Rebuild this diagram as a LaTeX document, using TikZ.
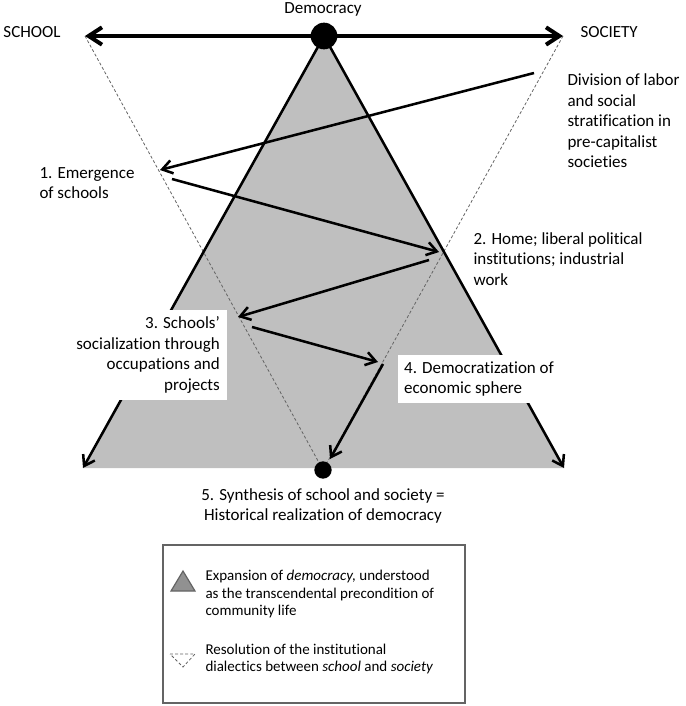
\documentclass[tikz,border=0pt]{standalone}
\usepackage{fontspec}
\setmainfont{Carlito}[Ligatures={NoCommon}]
\usetikzlibrary{arrows.meta}
\definecolor{demgray}{RGB}{191,191,191}
\definecolor{leggray}{RGB}{145,145,145}
\definecolor{dashgray}{RGB}{100,100,100}
\tikzset{every picture/.style={line width=0.75pt}}
\tikzset{
  axis/.style={line width=3pt, {Straight Barb[length=10pt,width=13pt]}-{Straight Barb[length=10pt,width=13pt]}},
  side/.style={line width=1.9pt, -{Straight Barb[length=7.5pt,width=10pt]}},
  zig/.style={line width=1.9pt, -{Straight Barb[length=7.5pt,width=10pt]}},
  resol/.style={draw=dashgray, line width=0.6pt, dash pattern=on 2.2pt off 1.6pt},
  dot/.style={circle, fill=black, inner sep=0pt, minimum size=#1},
  lbl/.style={font=\fontsize{12.75}{15.4}\selectfont, inner sep=0pt, align=left},
  leg/.style={font=\fontsize{11.25}{13.1}\selectfont, inner sep=0pt, align=left, anchor=west},
  boxed/.style={fill=white, inner xsep=5pt, inner ysep=4.7pt}
}

\begin{document}
\begin{tikzpicture}[x=0.75pt,y=0.75pt,yscale=-1,xscale=1]
			\useasboundingbox (0,0) rectangle (685,706);

			% Points
			\coordinate (top) at (324,36);
			\coordinate (bottom) at (323,470);
			\coordinate (schoolEnd) at (85,36);
			\coordinate (societyEnd) at (563,36);
			\coordinate (baseL) at (83,468);
			\coordinate (baseR) at (564,468);
			\coordinate (z0) at (534,73);
			\coordinate (z1) at (160,170);
			\coordinate (z1s) at (172,179);
			\coordinate (z2) at (439,252);
			\coordinate (z2s) at (429,260);
			\coordinate (z3) at (238,317);
			\coordinate (z3s) at (252,327);
			\coordinate (z4) at (378,362);
			\coordinate (z4s) at (383,364);
			\coordinate (z5) at (330,459);

			%Shape: Triangle (democracy)
			\fill [demgray] (top) -- (baseL) -- (baseR) -- cycle;
			%Shape: Dashed triangle (school / society)
			\draw [resol] (schoolEnd) -- (bottom) -- (societyEnd);
			%Sides
			\draw [side] (top) -- (baseL);
			\draw [side] (top) -- (baseR);
			%Axis
			\draw [axis] (schoolEnd) -- (societyEnd);

			%Zigzag
			\draw [zig] (z0) -- (z1);
			\draw [zig] (z1s) -- (z2);
			\draw [zig] (z2s) -- (z3);
			\draw [zig] (z3s) -- (z4);
			\draw [zig] (z4s) -- (z5);

			% Dots
			\node (apex) [dot=20] at (top) {};
			\node (synth) [dot=13] at (bottom) {};

			% Text Node
			\node (democracy) [lbl] at (323,9) {Democracy};
			% Text Node
			\node (school) [lbl, anchor=west] at (3,32) {SCHOOL};
			% Text Node
			\node (society) [lbl, anchor=west] at (580,32) {SOCIETY};
			% Text Node
			\node (division) [lbl, anchor=west] at (567,121) {Division of labor\\and social\\stratification in\\pre-capitalist\\societies};
			% Text Node
			\node (emergence) [lbl, anchor=west] at (39,183) {1. Emergence\\of schools};
			% Text Node
			\node (home) [lbl, anchor=west] at (473,259) {2. Home; liberal political\\institutions; industrial\\work};
			% Text Node
			\node (socialization) [lbl, boxed, align=right, anchor=east] at (227,355) {3. Schools’\\socialization through\\occupations and\\projects};
			% Text Node
			\node (democratization) [lbl, boxed, anchor=west] at (397,379) {4. Democratization of\\economic sphere};
			% Text Node
			\node (synthesis) [lbl, align=center] at (323,506) {5. Synthesis of school and society =\\Historical realization of democracy};

			%Legend
			\draw [draw=dashgray, line width=0.9pt] (163,545) rectangle (465,703);
			\draw [fill=leggray, draw=dashgray, line width=0.9pt] (183,571) -- (171,591) -- (195,591) -- cycle;
			\draw [resol] (170,654) -- (195,654) -- (183,667) -- cycle;
			% Text Node
			\node (expansion) [leg] at (205,594) {Expansion of \textit{democracy,} understood\\as the transcendental precondition of\\community life};
			% Text Node
			\node (resolution) [leg] at (205,659) {Resolution of the institutional\\dialectics between \textit{school} and \textit{society}};

		\end{tikzpicture}
\end{document}
